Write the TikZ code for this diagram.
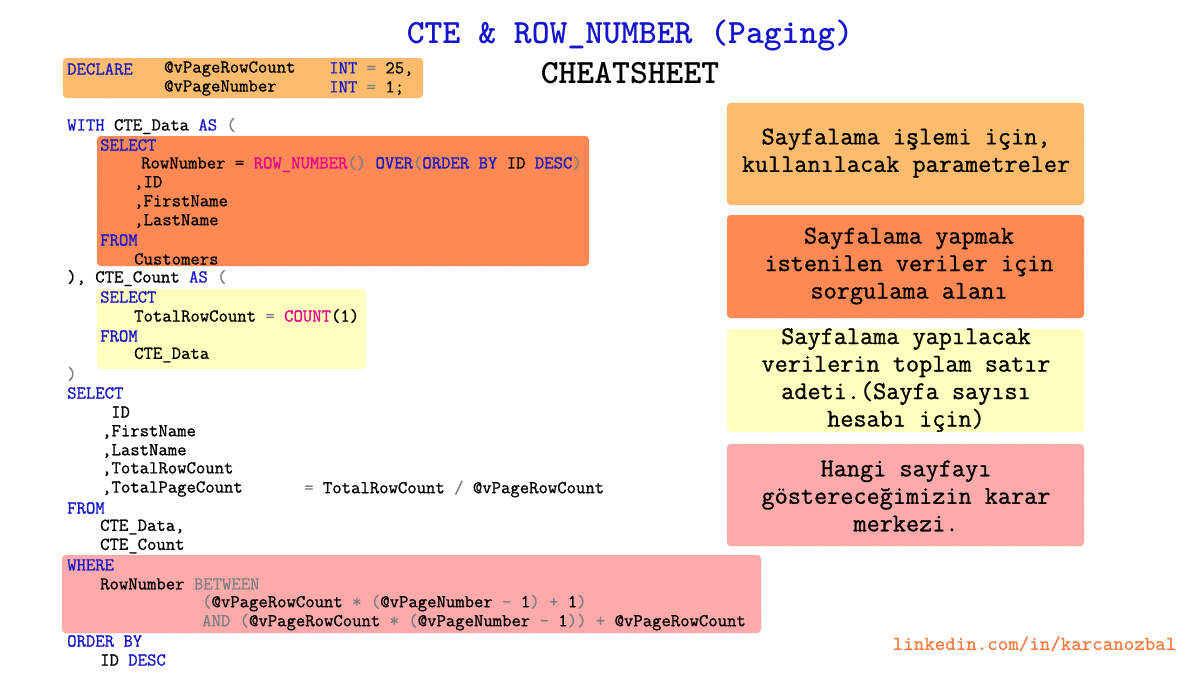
\documentclass[tikz,border=0pt]{standalone}
\usepackage{fontspec}
\setmonofont{Latin Modern Mono}[AutoFakeBold=0.9]
\newfontfamily\ttb{lmmonolt10-bold.otf}
\definecolor{kw}{RGB}{20,20,205}
\definecolor{fn}{RGB}{235,0,140}
\definecolor{gr}{RGB}{128,128,128}
\definecolor{cA}{RGB}{253,187,110}
\definecolor{cB}{RGB}{255,137,85}
\definecolor{cC}{RGB}{255,255,192}
\definecolor{cD}{RGB}{255,170,170}
\definecolor{lk}{RGB}{245,120,60}
\newcommand{\K}[1]{\textcolor{kw}{#1}}
\newcommand{\F}[1]{\textcolor{fn}{#1}}
\newcommand{\G}[1]{\textcolor{gr}{#1}}
\begin{document}
\begin{tikzpicture}[x=1pt,y=-1pt,
  code/.style={anchor=west,inner sep=0pt,font=\ttfamily\bfseries\fontsize{18.2}{19}\selectfont},
  hl/.style={rounded corners=4pt,draw=#1!85!black,densely dotted,fill=#1},
  note/.style={align=center,inner sep=0pt,font=\ttfamily\bfseries\fontsize{25.5}{27.5}\selectfont}]
\useasboundingbox (0,0) rectangle (1200,675);
\fill[white] (0,0) rectangle (1200,675);
% highlight boxes
\draw[hl=cA] (63,58) rectangle (423,98);
\draw[hl=cB] (97,136) rectangle (589,266);
\draw[hl=cC,draw=cC] (97,289) rectangle (366,369);
\draw[hl=cD] (62,555) rectangle (761,633);
% titles
\node[font=\ttb\fontsize{34}{36}\selectfont,text=kw] (title) at (630,36) {CTE \& ROW\_NUMBER (Paging)};
\node[font=\ttb\fontsize{34}{36}\selectfont] (sub) at (630,73) {CHEATSHEET};
% code
\node[code] (l0) at (67,69) {\K{DECLARE}};
\node[code] (l0b) at (164,69) {@vPageRowCount};
\node[code] (l0c) at (329,69) {\K{INT} \G{=} 25,};
\node[code] (l1b) at (164,88) {@vPageNumber};
\node[code] (l1c) at (329,88) {\K{INT} \G{=} 1;};
\node[code] (l2) at (67,126) {\K{WITH} CTE\_Data \K{AS} \G{(}};
\node[code] (l3) at (100,145) {\K{SELECT}};
\node[code] (l4) at (141,164) {RowNumber = \F{ROW\_NUMBER}\G{()} \K{OVER}\G{(}\K{ORDER BY} ID \K{DESC}\G{)}};
\node[code] (l5) at (134,183) {,ID};
\node[code] (l6) at (134,202) {,FirstName};
\node[code] (l7) at (134,221) {,LastName};
\node[code] (l8) at (100,240) {\K{FROM}};
\node[code] (l9) at (134,259) {Customers};
\node[code] (l10) at (67,278) {), CTE\_Count \K{AS} \G{(}};
\node[code] (l11) at (100,297) {\K{SELECT}};
\node[code] (l12) at (134,316) {TotalRowCount \G{=} \F{COUNT}(1)};
\node[code] (l13) at (100,336) {\K{FROM}};
\node[code] (l14) at (134,355) {CTE\_Data};
\node[code] (l15) at (67,374) {\G{)}};
\node[code] (l16) at (67,393) {\K{SELECT}};
\node[code] (l17) at (111,412) {ID};
\node[code] (l18) at (102,432) {,FirstName};
\node[code] (l19) at (102,451) {,LastName};
\node[code] (l20) at (102,469) {,TotalRowCount};
\node[code] (l21) at (102,489) {,TotalPageCount};
\node[code] (l21b) at (304,489) {\G{=} TotalRowCount \G{/} @vPageRowCount};
\node[code] (l22) at (67,508) {\K{FROM}};
\node[code] (l23) at (100,527) {CTE\_Data,};
\node[code] (l24) at (100,546) {CTE\_Count};
\node[code] (l25) at (67,565) {\K{WHERE}};
\node[code] (l26) at (100,584) {RowNumber \G{BETWEEN}};
\node[code] (l27) at (202,603) {\G{(}@vPageRowCount \G{*} \G{(}@vPageNumber \G{-} 1\G{)} \G{+} 1\G{)}};
\node[code] (l28) at (202,622) {\G{AND} \G{(}@vPageRowCount \G{*} \G{(}@vPageNumber \G{-} 1\G{))} \G{+} @vPageRowCount};
\node[code] (l29) at (67,641) {\K{ORDER BY}};
\node[code] (l30) at (100,660) {ID \K{DESC}};
% notes
\draw[hl=cA] (727,103) rectangle (1084,205);
\draw[hl=cB] (727,215) rectangle (1084,318);
\draw[hl=cC,draw=cC] (727,329) rectangle (1084,432);
\draw[hl=cD] (727,444) rectangle (1084,546);
\node[note] (n1) at (906,153) {Sayfalama işlemi için,\\kullanılacak parametreler};
\node[note] (n2) at (909,266) {Sayfalama yapmak\\istenilen veriler için\\sorgulama alanı};
\node[note] (n3) at (906,380) {Sayfalama yapılacak\\verilerin toplam satır\\adeti.(Sayfa sayısı\\hesabı için)};
\node[note] (n4) at (906,496) {Hangi sayfayı\\göstereceğimizin karar\\merkezi.};
\node[anchor=east,font=\ttb\fontsize{20}{22}\selectfont,text=lk] (lnk) at (1180,644) {linkedin.com/in/karcanozbal};
\end{tikzpicture}
\end{document}
